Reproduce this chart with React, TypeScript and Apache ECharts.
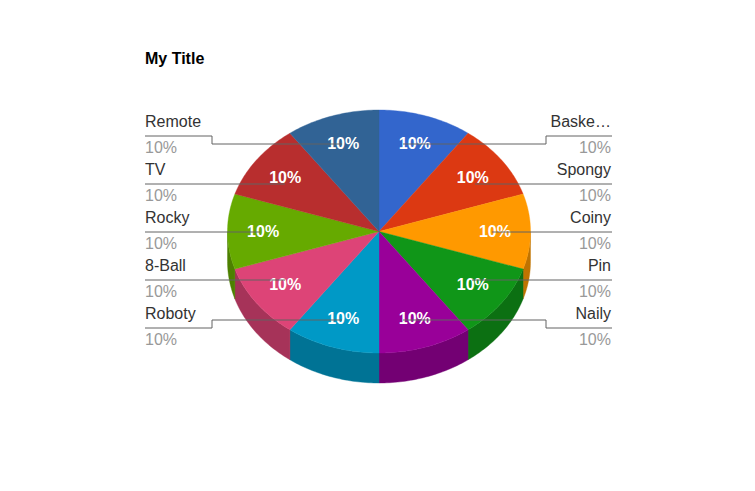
import React, { useEffect, useRef } from "react";
import * as echarts from "echarts";

const title = "My Title";
const categories = ["Baske…", "Spongy", "Coiny", "Pin", "Naily", "Roboty", "8-Ball", "Rocky", "TV", "Remote"];
const values = [10, 10, 10, 10, 10, 10, 10, 10, 10, 10];
const topColors = ["#3366cc", "#dc3912", "#ff9900", "#109618", "#990099", "#0099c6", "#dd4477", "#66aa00", "#b82e2e", "#316395"];
const wallColors = ["#264d99", "#a52b0e", "#bf7300", "#0c7012", "#730073", "#007395", "#a63359", "#4d8000", "#8a2323", "#254a70"];

const CX = 379, CY = 231.5, RX = 151.5, RY = 121.5, DEPTH = 30;
const FONT = '"Liberation Sans", Arial, sans-serif';
const total = values.reduce((a, b) => a + b, 0);
const pct = values.map((v) => `${Math.round((v / total) * 100)}%`);
const starts: number[] = [];
values.reduce((acc, v, i) => { starts[i] = acc; return acc + (v / total) * 360; }, 0);
const rows = values.map((v, i) => [i, starts[i], starts[i] + (v / total) * 360]);

const pt = (deg: number, f = 1, dy = 0): [number, number] => {
  const a = (deg * Math.PI) / 180;
  return [CX + RX * f * Math.sin(a), CY - RY * f * Math.cos(a) + dy];
};
const arc = (a: number, b: number, dy = 0) => {
  const out: [number, number][] = [];
  const n = Math.max(2, Math.ceil(Math.abs(b - a)));
  for (let k = 0; k <= n; k++) out.push(pt(a + ((b - a) * k) / n, 1, dy));
  return out;
};

// Leader-line end inside each slice
const leaderEnd: [number, number][] = [
  [403, 144], [475, 184.5], [492, 232], [472, 280], [403, 320],
  [342, 320], [285, 280], [260, 232], [285, 184.5], [342, 144],
];

const wallItem = (_: any, api: any) => {
  const i = api.value(0);
  const a = Math.max(api.value(1), 90), b = Math.min(api.value(2), 270);
  if (b <= a) return { type: "group", children: [] };
  return {
    type: "polygon",
    shape: { points: [...arc(a, b), ...arc(b, a, DEPTH)] },
    style: { fill: wallColors[i], stroke: wallColors[i], lineWidth: 0.4 },
  };
};
const topItem = (_: any, api: any) => {
  const i = api.value(0);
  return {
    type: "polygon",
    shape: { points: [[CX, CY], ...arc(api.value(1), api.value(2))] },
    style: { fill: topColors[i], stroke: topColors[i], lineWidth: 0.4 },
  };
};
const labelItem = (_: any, api: any) => {
  const i = api.value(0);
  const mid = (api.value(1) + api.value(2)) / 2;
  const x = pt(mid, 0.765)[0];
  const y = pt(mid, 0.755)[1];
  return {
    type: "text",
    style: { text: pct[i], x, y: y - 0.5, align: "center", verticalAlign: "middle", fill: "#ffffff", font: `bold 16px ${FONT}` },
  };
};
const leaderItem = (_: any, api: any) => {
  const i = api.value(0);
  const right = i < 5;
  const row = right ? i : 9 - i;
  const lineY = 136 + 48 * row;
  const outer = right ? 612 : 145;
  const elbow = right ? 546 : 212;
  const [ex, ey] = leaderEnd[i];
  const pts = Math.abs(ey - lineY) < 1
    ? [[outer, lineY], [ex, lineY]]
    : [[outer, lineY], [elbow, lineY], [elbow, ey], [ex, ey]];
  const textX = right ? 611 : 145;
  const align = right ? "right" : "left";
  return {
    type: "group",
    children: [
      { type: "polyline", shape: { points: pts }, style: { fill: "none", stroke: "#636363", lineWidth: 1 } },
      { type: "text", style: { text: categories[i], x: textX, y: lineY - 15, align, verticalAlign: "middle", fill: "#333333", font: `16px ${FONT}` } },
      { type: "text", style: { text: pct[i], x: textX, y: lineY + 11.5, align, verticalAlign: "middle", fill: "#999999", font: `16px ${FONT}` } },
    ],
  };
};

const layer = (renderItem: any, z: number) => ({
  type: "custom",
  coordinateSystem: "none",
  renderItem,
  data: rows,
  z,
  silent: true,
  encode: { tooltip: [] },
});

export default function App() {
  const ref = useRef<HTMLDivElement>(null);
  useEffect(() => {
    document.body.style.margin = "0";
    const chart = echarts.init(ref.current!, undefined, { renderer: "svg" });
    chart.setOption({
      animation: false,
      backgroundColor: "#ffffff",
      title: {
        text: title, left: 145, top: 50,
        padding: 0,
        textStyle: { fontFamily: FONT, fontSize: 16, fontWeight: "bold", color: "#000000" },
      },
      series: [layer(wallItem, 1), layer(topItem, 2), layer(labelItem, 3), layer(leaderItem, 4)],
    });
    return () => chart.dispose();
  }, []);
  return <div ref={ref} style={{ width: 755, height: 491 }} />;
}
